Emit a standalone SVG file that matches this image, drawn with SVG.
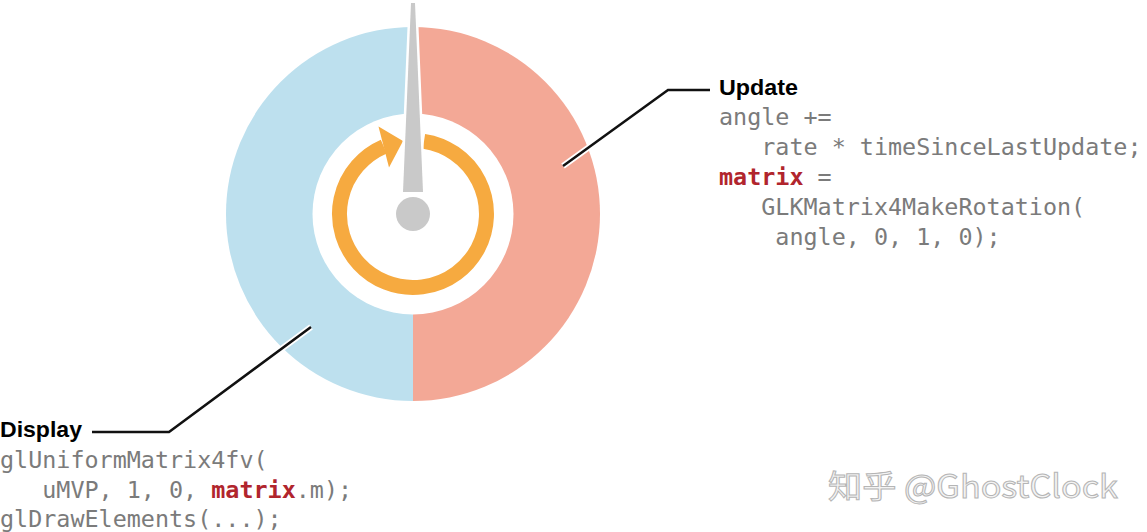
<svg xmlns="http://www.w3.org/2000/svg" width="1147" height="532" viewBox="0 0 1147 532">
<style>
.lbl{font-family:"Liberation Sans",Arial,sans-serif;font-weight:bold;font-size:22px;fill:#000}
.code{font-family:"DejaVu Sans Mono","Liberation Mono",monospace;font-size:23.4px;fill:#7b7b7b}
.kw{fill:#b1252d;font-weight:bold}
.halo{fill:none;stroke:#fff;stroke-width:6;stroke-linejoin:round}
.lead{fill:none;stroke:#111;stroke-width:2.5;stroke-linejoin:miter}
.wm{font-family:"Noto Sans CJK SC","Liberation Sans",sans-serif;font-size:32px;fill:#f3f3f3;stroke:#b5b5b5;stroke-width:1}
</style>
<rect width="1147" height="532" fill="#fff"/>
<g id="dial">
  <path d="M413,27 A187,187 0 0 0 413,401 Z" fill="#bde0ee"/>
  <path d="M413,27 A187,187 0 0 1 413,401 Z" fill="#f3a896"/>
  <circle cx="413" cy="214" r="100.5" fill="#fff"/>
</g>
<g id="cycle">
  <path d="M423.99,141.33 A73.5,73.5 0 1 1 383.81,146.54" fill="none" stroke="#f6aa40" stroke-width="15"/>
  <polygon points="378.5,126.5 403,141 389,167.5" fill="#f6aa40"/>
</g>
<g id="needle">
  <circle cx="413" cy="214" r="17" fill="#c9c9c9"/>
  <polygon points="411,3 415,3 423,192 403,192" fill="#c9c9c9" stroke="#fff" stroke-width="5" paint-order="stroke"/>
</g>
<g id="connectors">
  <polyline class="halo" points="563,166 668,90 710,90"/>
  <polyline class="lead" points="563,166 668,90 710,90"/>
  <polyline class="halo" points="311,327 169,432 92,432"/>
  <polyline class="lead" points="311,327 169,432 92,432"/>
</g>
<g id="update">
  <text class="lbl" x="719" y="95" textLength="79" lengthAdjust="spacingAndGlyphs">Update</text>
  <text class="code" x="719" y="125" xml:space="preserve">angle +=</text>
  <text class="code" x="719" y="155" xml:space="preserve">   rate * timeSinceLastUpdate;</text>
  <text class="code" x="719" y="185" xml:space="preserve"><tspan class="kw">matrix</tspan> =</text>
  <text class="code" x="719" y="215" xml:space="preserve">   GLKMatrix4MakeRotation(</text>
  <text class="code" x="719" y="245" xml:space="preserve">    angle, 0, 1, 0);</text>
</g>
<g id="display">
  <text class="lbl" x="0" y="437" textLength="82" lengthAdjust="spacingAndGlyphs">Display</text>
  <text class="code" x="0" y="468" xml:space="preserve">glUniformMatrix4fv(</text>
  <text class="code" x="0" y="498" xml:space="preserve">   uMVP, 1, 0, <tspan class="kw">matrix</tspan>.m);</text>
  <text class="code" x="0" y="527" xml:space="preserve">glDrawElements(...);</text>
</g>
<g id="watermark">
  <text class="wm" x="828" y="498" textLength="290" lengthAdjust="spacingAndGlyphs">知乎 @GhostClock</text>
</g>
</svg>
